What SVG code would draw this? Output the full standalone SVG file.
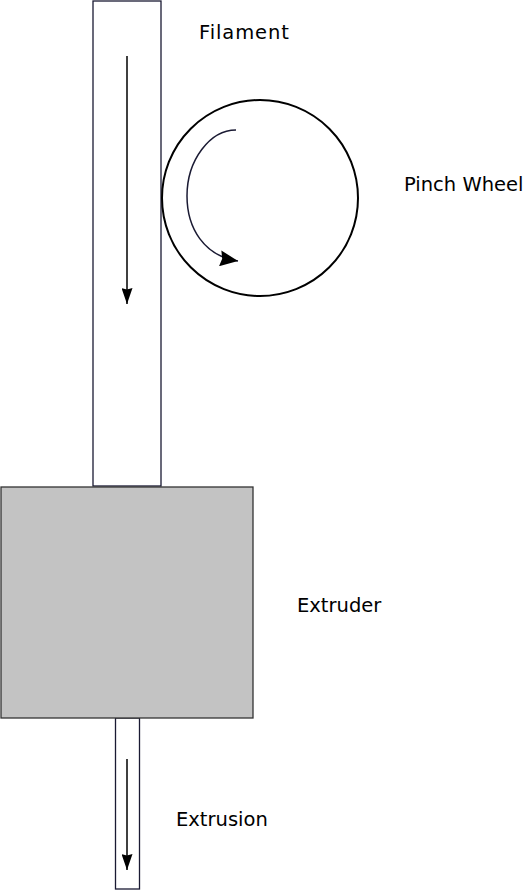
<svg xmlns="http://www.w3.org/2000/svg" width="524" height="890" viewBox="0 0 524 890">
<style>
text{font-family:"DejaVu Sans",sans-serif;font-size:19.5px;fill:#000}
.tube{fill:#fff;stroke:#1a1a33;stroke-width:1.3}
.flow{fill:none;stroke:#000;stroke-width:1.5}
</style>
<defs>
<marker id="ah" viewBox="0 0 16 11" refX="16" refY="5.5" markerWidth="16" markerHeight="11" markerUnits="userSpaceOnUse" orient="auto">
<path d="M0,0 L16,5.5 L0,11 L1.5,5.5 Z" fill="#000"/>
</marker>
<marker id="ah2" viewBox="0 0 18 16" refX="18" refY="8" markerWidth="18" markerHeight="16" markerUnits="userSpaceOnUse" orient="auto">
<path d="M0,0 L18,8 L0,16 L2,8 Z" fill="#000"/>
</marker>
</defs>
<g id="filament"><rect class="tube" x="93" y="1" width="68" height="485"/></g>
<g id="pinch-wheel"><circle cx="260" cy="198" r="98" fill="#fff" stroke="#000" stroke-width="2"/></g>
<g id="extrusion"><rect class="tube" x="115.5" y="718" width="24" height="171" stroke="#333"/></g>
<g id="extruder"><rect x="1" y="487" width="252" height="231" fill="#c3c3c3" stroke="#333" stroke-width="1.3"/></g>
<g id="connectors">
<line class="flow" x1="127" y1="56" x2="127" y2="304" marker-end="url(#ah)"/>
<line class="flow" x1="127" y1="759" x2="127" y2="870" marker-end="url(#ah)"/>
<path d="M236,130 C210,130 187,160 187,196 C187,228 204,256 238,261" fill="none" stroke="#1a1a33" stroke-width="1.5" marker-end="url(#ah2)"/>
</g>
<text x="199" y="39" letter-spacing="0.9">Filament</text>
<text x="404" y="191">Pinch Wheel</text>
<text x="297" y="612">Extruder</text>
<text x="176" y="826">Extrusion</text>
</svg>
